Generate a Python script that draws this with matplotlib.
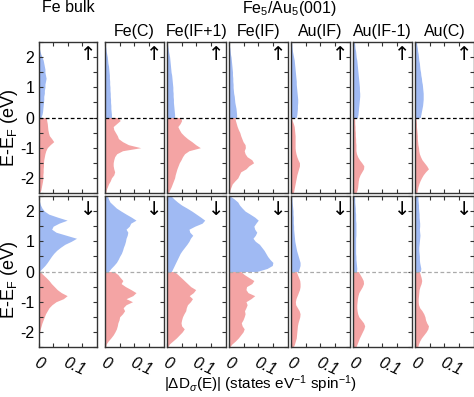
import numpy as np
import matplotlib
matplotlib.use('Agg')
import matplotlib.pyplot as plt
from matplotlib.ticker import MultipleLocator, FixedLocator

plt.rcParams['font.family'] = ['Liberation Sans', 'DejaVu Sans']
plt.rcParams['mathtext.fontset'] = 'custom'
plt.rcParams['mathtext.rm'] = 'Liberation Sans'
plt.rcParams['mathtext.it'] = 'Liberation Sans:italic'

# panels, left to right
panels = ['Fe bulk', 'Fe(C)', 'Fe(IF+1)', 'Fe(IF)', 'Au(IF)', 'Au(IF-1)', 'Au(C)']

# energy grids (eV): occupied -2.5..0, unoccupied 0..2.5, step 0.1
e_occ = np.round(np.arange(-2.5, 0.001, 0.1), 2)
e_unocc = np.round(np.arange(0.0, 2.501, 0.1), 2)

# |dD| in units of 1e-3 states/eV/spin
up_occ = {
    'Fe bulk':  [3, 8, 10, 12, 14, 15, 15, 16, 16, 17, 17, 18, 20, 22, 25, 30, 40, 52, 45, 37, 34, 32, 31, 30, 28, 27],
    'Fe(C)':    [2, 4, 8, 12, 18, 22, 30, 33, 30, 28, 28, 30, 33, 40, 60, 122, 80, 60, 46, 42, 36, 30, 28, 40, 52, 45],
    'Fe(IF+1)': [5, 9, 14, 18, 22, 26, 28, 31, 34, 38, 42, 48, 53, 60, 75, 114, 98, 85, 70, 58, 48, 42, 37, 45, 50, 46],
    'Fe(IF)':   [1, 3, 7, 11, 20, 30, 35, 40, 58, 68, 84, 78, 62, 55, 52, 56, 55, 48, 44, 40, 37, 32, 28, 25, 22, 20],
    'Au(IF)':   [8, 10, 12, 14, 16, 18, 20, 23, 26, 29, 29, 24, 20, 17, 15, 14, 14, 14, 14, 14, 13, 12, 11, 8, 4, 2],
    'Au(IF-1)': [10, 14, 16, 17, 18, 20, 24, 30, 36, 37, 30, 22, 16, 12, 10, 10, 10, 9, 9, 8, 8, 7, 7, 6, 6, 5],
    'Au(C)':    [6, 8, 10, 13, 17, 22, 28, 36, 46, 40, 32, 24, 19, 15, 13, 12, 10, 9, 8, 8, 7, 6, 5, 5, 4, 3],
}
up_unocc = {
    'Fe bulk':  [8, 12, 14, 15, 16, 17, 18, 18, 20, 20, 22, 22, 24, 26, 24, 22, 22, 20, 18, 16, 12, 8, 5, 3, 1, 0],
    'Fe(C)':    [22, 22, 21, 20, 20, 19, 19, 18, 18, 17, 17, 16, 16, 15, 15, 14, 13, 12, 10, 9, 8, 6, 4, 3, 1, 0],
    'Fe(IF+1)': [26, 26, 25, 24, 23, 22, 22, 21, 21, 20, 20, 19, 18, 17, 16, 14, 13, 12, 11, 10, 9, 7, 5, 4, 2, 0],
    'Fe(IF)':   [26, 26, 25, 24, 22, 20, 19, 18, 16, 15, 14, 14, 13, 13, 12, 12, 11, 10, 9, 8, 7, 5, 4, 3, 1, 0],
    'Au(IF)':   [18, 20, 21, 22, 22, 23, 23, 22, 21, 20, 19, 18, 18, 17, 16, 15, 14, 13, 12, 11, 9, 7, 5, 4, 3, 2],
    'Au(IF-1)': [15, 17, 18, 19, 20, 21, 22, 23, 23, 22, 22, 21, 20, 19, 18, 17, 16, 15, 14, 13, 11, 10, 9, 7, 6, 5],
    'Au(C)':    [18, 20, 22, 24, 26, 27, 28, 28, 28, 27, 26, 25, 23, 22, 20, 19, 17, 16, 15, 13, 12, 11, 9, 8, 6, 5],
}
dn_occ = {
    'Fe bulk':  [0, 0, 1, 2, 3, 4, 6, 9, 12, 16, 20, 24, 30, 36, 46, 60, 85, 98, 78, 64, 54, 44, 36, 26, 15, 4],
    'Fe(C)':    [2, 4, 11, 20, 28, 34, 39, 42, 44, 48, 50, 60, 67, 62, 72, 94, 72, 95, 106, 89, 70, 55, 61, 52, 44, 30],
    'Fe(IF+1)': [3, 8, 20, 32, 42, 52, 59, 50, 48, 50, 53, 58, 64, 66, 70, 80, 87, 76, 90, 98, 81, 70, 59, 48, 37, 25],
    'Fe(IF)':   [2, 10, 22, 32, 40, 48, 52, 45, 42, 48, 52, 55, 53, 58, 62, 58, 75, 88, 65, 58, 60, 78, 85, 68, 52, 40],
    'Au(IF)':   [8, 12, 15, 18, 19, 20, 21, 22, 24, 27, 30, 31, 28, 22, 16, 15, 17, 21, 25, 29, 31, 31, 30, 26, 22, 18],
    'Au(IF-1)': [10, 14, 18, 22, 27, 32, 37, 40, 36, 28, 20, 16, 14, 13, 13, 14, 15, 17, 20, 26, 32, 36, 35, 30, 24, 18],
    'Au(C)':    [9, 12, 16, 22, 30, 38, 44, 46, 40, 36, 34, 30, 24, 16, 12, 11, 11, 12, 13, 14, 17, 21, 23, 21, 18, 15],
}
dn_unocc = {
    'Fe bulk':  [2, 12, 22, 30, 37, 44, 52, 62, 75, 90, 112, 130, 95, 60, 45, 50, 70, 98, 65, 35, 20, 12, 7, 4, 2, 0],
    'Fe(C)':    [12, 20, 30, 39, 45, 50, 56, 60, 63, 67, 70, 72, 76, 78, 72, 83, 88, 106, 90, 72, 55, 39, 28, 17, 12, 8],
    'Fe(IF+1)': [15, 20, 25, 30, 35, 40, 45, 52, 60, 68, 75, 80, 88, 78, 75, 95, 120, 129, 115, 100, 85, 68, 50, 36, 24, 14],
    'Fe(IF)':   [95, 130, 148, 150, 140, 132, 126, 120, 112, 104, 90, 82, 90, 95, 88, 85, 92, 100, 88, 72, 55, 45, 36, 30, 18, 4],
    'Au(IF)':   [25, 28, 31, 31, 28, 25, 22, 19, 17, 15, 13, 12, 11, 10, 9, 9, 8, 8, 8, 7, 7, 6, 5, 4, 3, 2],
    'Au(IF-1)': [12, 13, 12, 11, 10, 10, 9, 9, 9, 9, 9, 9, 10, 10, 10, 10, 10, 9, 9, 9, 8, 8, 7, 6, 6, 5],
    'Au(C)':    [18, 20, 18, 16, 15, 15, 14, 13, 13, 14, 15, 16, 17, 16, 15, 16, 16, 15, 14, 14, 13, 12, 12, 11, 10, 10],
}

W, H = 474, 397
fig = plt.figure(figsize=(W / 100, H / 100), dpi=100)

blue = '#a0baf3'
red = '#f4a4a4'
frame = '#333333'

lefts = [38.5, 105, 167, 229, 291, 353, 415]
widths = [58.5, 58.5, 58.5, 58.5, 58.5, 58.5, 59.5]
rows = [(42, 193), (196, 347)]  # pixel top/bottom of each row
ylab_y = [128, 280]

for r, (top, bot) in enumerate(rows):
    occ = up_occ if r == 0 else dn_occ
    unocc = up_unocc if r == 0 else dn_unocc
    for c, name in enumerate(panels):
        ax = fig.add_axes([lefts[c] / W, 1 - bot / H, widths[c] / W, (bot - top) / H])
        ax.fill_betweenx(e_unocc, 0, np.array(unocc[name]) / 1000, color=blue, lw=0)
        ax.fill_betweenx(e_occ, 0, np.array(occ[name]) / 1000, color=red, lw=0)
        ax.axhline(0, color='black' if r == 0 else '#aaaaaa', lw=0.9,
                   ls=(0, (3, 2)))
        ax.set_xlim(0, 0.2 * widths[c] / 58.5)
        ax.set_ylim(-2.5, 2.5)
        for s in ax.spines.values():
            s.set_color(frame)
            s.set_linewidth(1.0)
        ax.xaxis.set_major_locator(FixedLocator([0, 0.1]))
        ax.xaxis.set_minor_locator(FixedLocator([0.05, 0.15]))
        ax.yaxis.set_major_locator(MultipleLocator(1))
        ax.yaxis.set_minor_locator(MultipleLocator(0.5))
        ax.tick_params(which='both', direction='in', color=frame,
                       top=True, bottom=True, left=(c == 0), right=True,
                       length=3, width=0.8)
        if c == 0:
            ax.set_yticklabels(['' if v not in (-2, -1, 0, 1, 2) else '%d' % v
                                for v in ax.get_yticks()])
            ax.tick_params(axis='y', labelsize=11.5, pad=3)
        else:
            ax.set_yticklabels([])
        if r == 1:
            ax.set_xticklabels(['0', '0.1'], fontsize=11.5, rotation=-25,
                               ha='left', rotation_mode='anchor')
            ax.tick_params(axis='x', pad=6)
            for lab in ax.get_xticklabels():
                lab.set_style('italic')
        else:
            ax.set_xticklabels([])
        # spin arrow in the upper right corner
        fig.text((lefts[c] + 49.5) / W, 1 - (top + 13) / H,
                 '\u2191' if r == 0 else '\u2193',
                 ha='center', va='center', fontsize=14, family=['DejaVu Sans'])
        if r == 0 and c > 0:
            ax.set_title(name, fontsize=11.5, pad=4)

    fig.text(9 / W, 1 - ylab_y[r] / H, 'E-E$_\\mathrm{F}$ (eV)', rotation=90,
             ha='center', va='center', fontsize=13)

fig.text(68 / W, 1 - 8 / H, 'Fe bulk', ha='center', va='center', fontsize=11.5)
fig.text(289 / W, 1 - 9 / H, 'Fe$_5$/Au$_5$(001)', ha='center', va='center', fontsize=11.5)
fig.text(261 / W, 1 - 384 / H,
         '|\u0394D$_\\sigma$(E)| (states eV$^{-1}$ spin$^{-1}$)',
         ha='center', va='center', fontsize=11)

fig.savefig('out.png', dpi=100)
